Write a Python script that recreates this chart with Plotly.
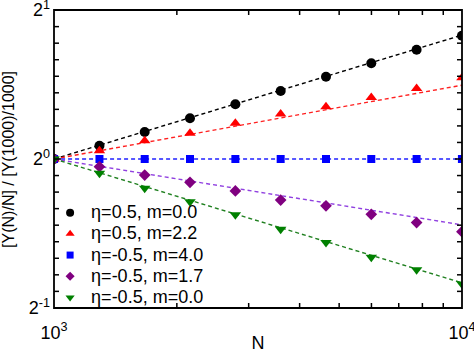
import plotly.graph_objects as go

N = [1000, 1292, 1668, 2154, 2783, 3594, 4642, 5995, 7743, 10000]

series_names = ["η=0.5, m=0.0", "η=0.5, m=2.2", "η=-0.5, m=4.0", "η=-0.5, m=1.7", "η=-0.5, m=0.0"]
y_black = [1.000, 1.064, 1.134, 1.209, 1.290, 1.372, 1.467, 1.561, 1.663, 1.775]
y_red = [1.000, 1.039, 1.089, 1.127, 1.181, 1.233, 1.275, 1.332, 1.389, 1.460]
y_blue = [1.000, 1.000, 1.000, 1.000, 1.000, 1.000, 1.000, 1.000, 1.000, 1.000]
y_purple = [1.000, 0.965, 0.928, 0.897, 0.862, 0.826, 0.804, 0.773, 0.744, 0.713]
y_green = [1.000, 0.936, 0.873, 0.820, 0.771, 0.721, 0.678, 0.633, 0.597, 0.559]

fit_N = [1000, 10000]
fit_black = [1.0, 1.78]
fit_red = [1.0, 1.41]
fit_blue = [1.0, 1.0]
fit_purple = [1.0, 0.736]
fit_green = [1.0, 0.562]

x_tickvals = [1000, 10000]
x_ticktext = ["10<sup>3</sup>", "10<sup>4</sup>"]
y_tickvals = [0.5, 1, 2]
y_ticktext = ["2<sup>-1</sup>", "2<sup>0</sup>", "2<sup>1</sup>"]
x_minor = [2000, 3000, 4000, 5000, 6000, 7000, 8000, 9000]
y_minor = [2 ** (k / 9) for k in range(-8, 0)] + [2 ** (k / 9) for k in range(1, 9)]

marker_colors = ["#000000", "#ff0000", "#0000ff", "#800080", "#008000"]
line_colors = ["#000000", "#ff2020", "#2020ff", "#9040e0", "#208020"]
symbols = ["circle", "triangle-up", "square", "diamond", "triangle-down"]
sizes = [10, 10, 8, 9, 10]
legend_sizes = [8, 8, 7, 7, 8]

data_y = [y_black, y_red, y_blue, y_purple, y_green]
fit_y = [fit_black, fit_red, fit_blue, fit_purple, fit_green]

FONT = "Liberation Sans, Arial"
xr = [2.9998, 4.0002]
yr = [-0.3012, 0.3012]

W, H = 474, 353
ML, MR, MT, MB = 54, 12, 10, 45
PW, PH = W - ML - MR, H - MT - MB

fig = go.Figure()
for i in range(5):
    fig.add_trace(go.Scatter(
        x=fit_N, y=fit_y[i], mode="lines",
        line=dict(color=line_colors[i], width=1.4, dash="4px,3px"),
        showlegend=False, hoverinfo="skip"))
for i in range(5):
    fig.add_trace(go.Scatter(
        x=N, y=data_y[i], mode="markers", showlegend=False,
        marker=dict(symbol=symbols[i], size=sizes[i], color=marker_colors[i], line=dict(width=0))))
for i in range(5):
    fig.add_trace(go.Scatter(
        x=[None], y=[None], mode="markers",
        name="<span style='font-size:18px'>" + series_names[i] + "</span>",
        marker=dict(symbol=symbols[i], size=legend_sizes[i], color=marker_colors[i], line=dict(width=0))))

axis_common = dict(
    showline=False, ticks="", showgrid=False, zeroline=False, automargin=False,
    ticklabeloverflow="allow", tickfont=dict(family=FONT, size=18, color="black"),
)

# inside tick marks, mirrored on all four sides, placed at the tick values (lengths in paper units)
tick_shapes = []
tick_line = dict(color="black", width=1.5)
MINOR_LEN = 5
MAJOR_LEN = 7
xl = MINOR_LEN / PH
for v in x_minor:
    tick_shapes.append(dict(type="line", xref="x", x0=v, x1=v, yref="paper", y0=0, y1=xl, line=tick_line, layer="above"))
    tick_shapes.append(dict(type="line", xref="x", x0=v, x1=v, yref="paper", y0=1 - xl, y1=1, line=tick_line, layer="above"))
for vals, ln in ((y_minor, MINOR_LEN), (y_tickvals, MAJOR_LEN)):
    yl = ln / PW
    for v in vals:
        tick_shapes.append(dict(type="line", yref="y", y0=v, y1=v, xref="paper", x0=0, x1=yl, line=tick_line, layer="above"))
        tick_shapes.append(dict(type="line", yref="y", y0=v, y1=v, xref="paper", x0=1 - yl, x1=1, line=tick_line, layer="above"))
frame = dict(type="rect", xref="paper", yref="paper", x0=0, x1=1, y0=0, y1=1,
             line=dict(color="black", width=1.8), layer="above")

fig.update_layout(
    xaxis=dict(type="log", range=xr, tickmode="array", tickvals=x_tickvals, ticktext=x_ticktext,
               ticklabelstandoff=12,
               title=dict(text="N", font=dict(family=FONT, size=18, color="black"), standoff=4),
               **axis_common),
    yaxis=dict(type="log", range=yr, tickmode="array", tickvals=y_tickvals, ticktext=y_ticktext,
               ticklabelstandoff=3, **axis_common),
    width=W, height=H, autosize=False,
    margin=dict(l=ML, r=MR, t=MT, b=MB, autoexpand=False),
    plot_bgcolor="white", paper_bgcolor="white",
    font=dict(family=FONT, color="black"),
    legend=dict(x=-0.012, y=-0.017, xanchor="left", yanchor="bottom", bgcolor="rgba(0,0,0,0)",
                font=dict(size=14, family=FONT, color="black"), itemwidth=32),
    annotations=[dict(text="[Y(N)/N] / [Y(1000)/1000]", textangle=-90, xref="paper", yref="paper",
                      x=-0.113, y=0.5, xanchor="center", yanchor="middle", showarrow=False,
                      font=dict(family=FONT, size=16, color="black"))],
    shapes=tick_shapes + [frame],
)

fig.write_html("out.html")
